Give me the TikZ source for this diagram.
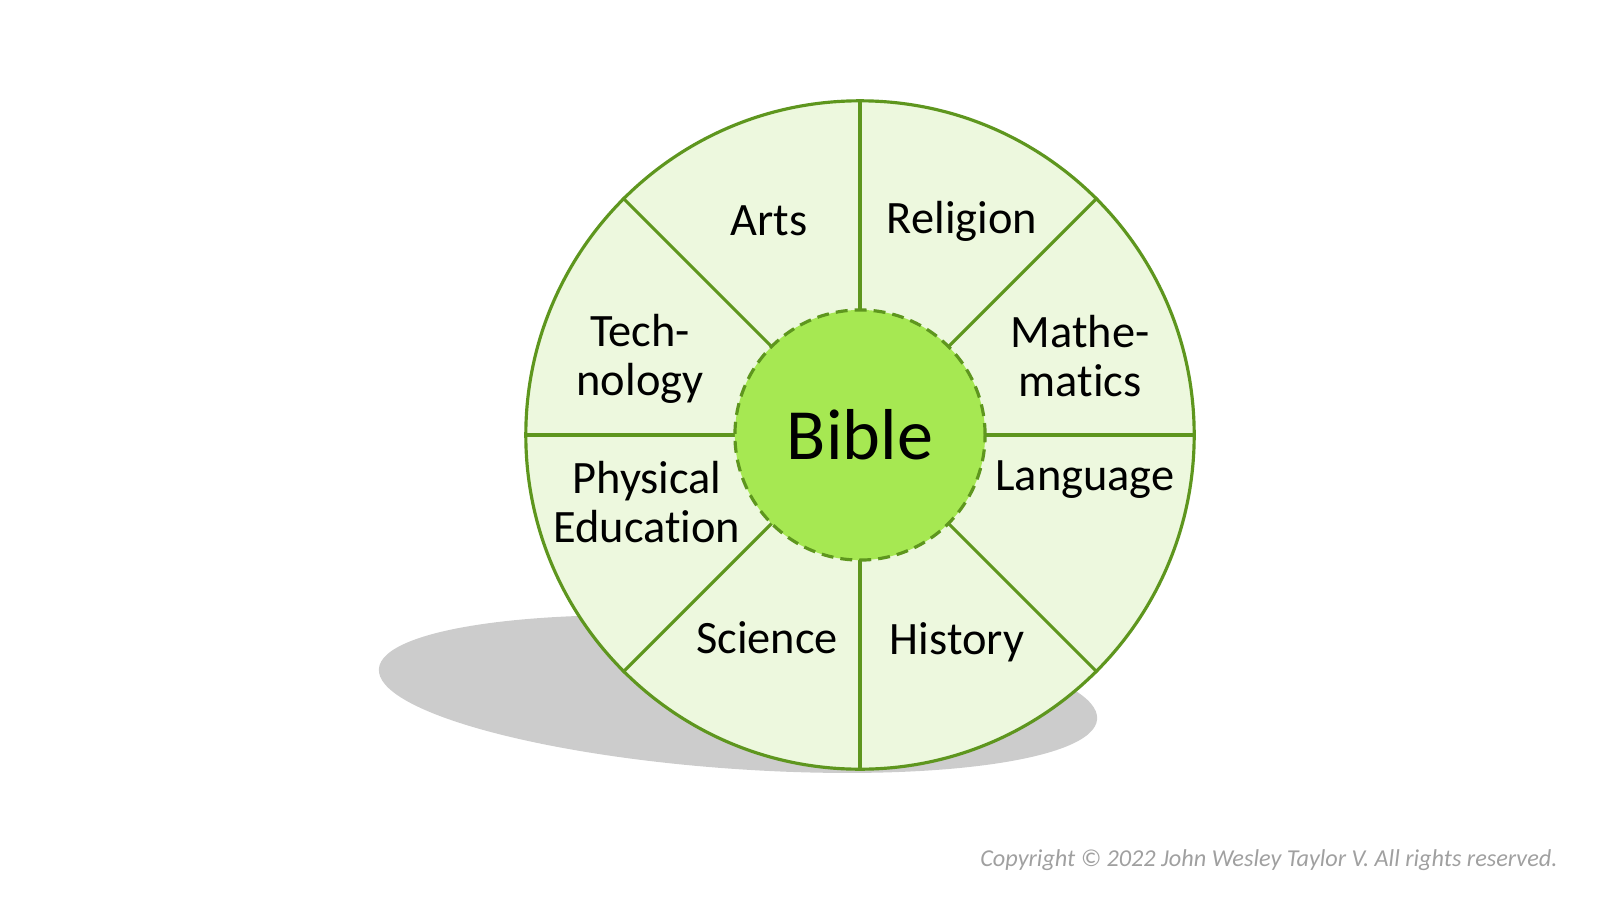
\documentclass[tikz,border=0pt]{standalone}
\usepackage{fontspec}
\setmainfont[Ligatures=NoCommon]{Carlito}
\usetikzlibrary{positioning}
\definecolor{rimgreen}{HTML}{5E961E}
\definecolor{sectorfill}{HTML}{EDF8DE}
\definecolor{hubfill}{HTML}{A6E852}
\definecolor{notegray}{HTML}{A0A0A0}
\tikzset{%
  wheel/.style  = {circle, draw=rimgreen, fill=sectorfill, line width=0.9pt,
    minimum size=6.68cm, inner sep=0pt},
  hub/.style    = {circle, draw=rimgreen, fill=hubfill, line width=0.9pt,
    dash pattern=on 3.4pt off 2pt, minimum size=2.5cm, inner sep=0pt,
    font=\fontsize{20.5}{24}\selectfont},
  spoke/.style  = {draw=rimgreen, line width=0.9pt},
  subject/.style = {align=center, font=\fontsize{13.2}{13.9}\selectfont},
  note/.style   = {text=notegray, font=\fontsize{6.9}{9}\selectfont\itshape}
}
\begin{document}
\begin{tikzpicture}[x=0.01cm, y=-0.01cm]
\useasboundingbox (0,0) rectangle (1600,900);
% shadow
\fill[black!20, rotate around={-4:(738,694)}] (738,694) ellipse [x radius=360, y radius=75];
% wheel and hub
\node[wheel] (wheel) at (860,435) {};
\foreach \a in {0,45,...,315}
	\draw[spoke] (wheel.center) -- (wheel.\a);
\node[hub] (hub) at (wheel.center) {Bible};
% subjects
\node[subject] (arts)     at (769,221) {Arts};
\node[subject] (religion) at (962,221) {Religion};
\node[subject] (tech)     at (640,359) {Tech-\\nology};
\node[subject] (math)     at (1080,356) {Mathe-\\matics};
\node[subject] (pe)       at (647,502) {Physical\\Education};
\node[subject] (language) at (1085,480) {Language};
\node[subject] (science)  at (767,638) {Science};
\node[subject] (history)  at (957,642) {History};
% copyright
\node[note, anchor=east] (copy) at (1570,860) {Copyright \textcopyright{} 2022 John Wesley Taylor V. All rights reserved.};
\end{tikzpicture}
\end{document}
